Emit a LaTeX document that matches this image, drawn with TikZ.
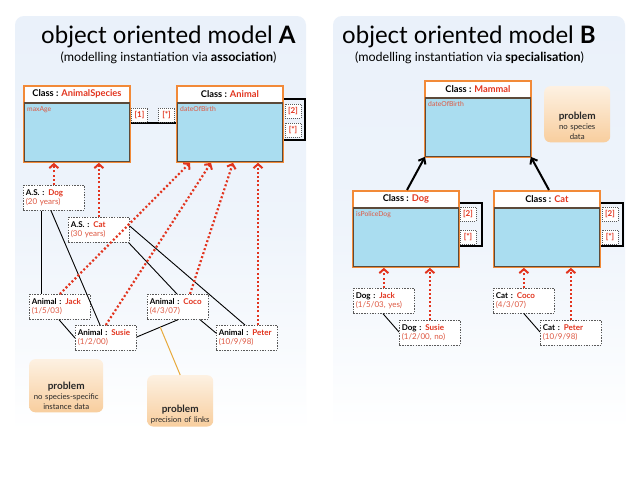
\documentclass[tikz,border=0pt]{standalone}
\usepackage{fontspec}
\setmainfont{Lato}
\usetikzlibrary{arrows.meta,calc}
\definecolor{myred}{RGB}{226,52,30}
\definecolor{attrred}{RGB}{222,88,66}
\definecolor{borderorange}{RGB}{242,138,56}
\definecolor{bodyblue}{RGB}{170,221,240}
\definecolor{bodyline}{RGB}{92,74,58}
\definecolor{panelbg}{RGB}{234,241,250}
\definecolor{dashgray}{RGB}{90,90,90}
\definecolor{probtop}{RGB}{253,241,226}
\definecolor{probbot}{RGB}{248,206,158}
\definecolor{linkorange}{RGB}{232,170,60}
\definecolor{textgray}{RGB}{40,40,40}
\newcommand\firstln[2]{{\bfseries #1 : \textcolor{myred}{#2}}}
\newcommand\probtitle{{\bfseries\fontsize{10}{11}\selectfont problem}}
\begin{document}
\begin{tikzpicture}[x=1pt,y=-1pt,
  classouter/.style={draw=borderorange, line width=1.8pt, fill=white, anchor=north west, minimum width=106pt, minimum height=76pt, inner sep=0pt},
  body/.style={fill=bodyblue, draw=bodyline, line width=1.3pt},
  header/.style={font=\bfseries\fontsize{9.3}{11}\selectfont, inner sep=1pt},
  attr/.style={font=\fontsize{6.8}{8}\selectfont, text=attrred, anchor=north west, inner sep=1pt},
  mult/.style={draw=dashgray, line width=0.8pt, dash pattern=on 1pt off 1pt, fill=white, font=\bfseries\fontsize{8}{9}\selectfont, text=myred, inner sep=0pt, minimum width=16pt, minimum height=14pt},
  assoc/.style={line width=1.4pt, black},
  inst/.style={draw=dashgray, line width=0.7pt, dash pattern=on 1.5pt off 1.2pt, fill=white, anchor=north west, text width=56pt, align=left, inner xsep=2.5pt, inner ysep=2pt, minimum height=25pt, font=\fontsize{8}{9.5}\selectfont},
  link/.style={line width=0.9pt, black},
  instarrow/.style={draw=myred, line width=2.2pt, dash pattern=on 2pt off 2.2pt, -{Straight Barb[length=4pt,width=9pt,line width=2pt]}},
  gen/.style={line width=2pt, -{Straight Barb[length=5pt,width=8pt]}},
  prob/.style={rounded corners=6pt, top color=probtop, bottom color=probbot, anchor=north west, align=center, inner sep=3pt, text=textgray, font=\fontsize{7.8}{10}\selectfont},
  title/.style={font=\fontsize{24}{28}\selectfont, inner sep=0pt},
  subtitle/.style={font=\fontsize{12.5}{15}\selectfont, inner sep=0pt},
]
\useasboundingbox (0,0) rectangle (638,479);
\fill[white] (0,0) rectangle (638,479);
% panels
\shade[rounded corners=9pt, top color=panelbg, bottom color=white, middle color=panelbg!80!white] (15,16) rectangle (306,432);
\shade[rounded corners=9pt, top color=panelbg, bottom color=white, middle color=panelbg!80!white] (333,16) rectangle (625,430);

% titles
\node[title] (titleA) at (168.5,37) {object oriented model \textbf{A}};
\node[subtitle] (subA) at (168.5,58) {(modelling instantiation via \textbf{association})};
\node[title] (titleB) at (469,37) {object oriented model \textbf{B}};
\node[subtitle] (subB) at (469.5,58) {(modelling instantiation via \textbf{specialisation})};

% ===== Model A classes =====
\node[classouter] (asp) at (23,85) {};
\fill[body] ([xshift=1.5pt,yshift=-18pt]asp.north west) rectangle ([xshift=-1.5pt,yshift=1.5pt]asp.south east);
\node[header] (aspH) at ([yshift=-9pt]asp.north) {Class : \textcolor{myred}{AnimalSpecies}};
\node[attr] (aspA) at ([xshift=3pt,yshift=-20pt]asp.north west) {maxAge};

\node[classouter] (animal) at (176,85) {};
\fill[body] ([xshift=1.5pt,yshift=-18pt]animal.north west) rectangle ([xshift=-1.5pt,yshift=1.5pt]animal.south east);
\node[header] (animalH) at ([yshift=-9pt]animal.north) {Class : \textcolor{myred}{Animal}};
\node[attr] (animalA) at ([xshift=3pt,yshift=-20pt]animal.north west) {dateOfBirth};

% association AnimalSpecies - Animal
\draw[assoc] ([yshift=-38pt]asp.north east) -- ([yshift=-38pt]animal.north west);
\node[mult] (m1) at (139.5,115) {[1]};
\node[mult] (m2) at (166.5,115) {[*]};

% self association Animal
\draw[assoc] ([yshift=-14pt]animal.north east) -- ++(21,0) -- ++(0,41) -- ++(-21,0);
\node[mult] (m3) at (293,111) {[2]};
\node[mult] (m4) at (293,130) {[*]};

% ===== Model A instances =====
\node[inst] (asdog) at (23,185) {\firstln{A.S.}{Dog}\\\textcolor{attrred}{(20 years)}};
\node[inst] (ascat) at (68,217) {\firstln{A.S.}{Cat}\\\textcolor{attrred}{(30 years)}};
\node[inst] (jack) at (29,294) {\firstln{Animal}{Jack}\\\textcolor{attrred}{(1/5/03)}};
\node[inst] (susie) at (75,325) {\firstln{Animal}{Susie}\\\textcolor{attrred}{(1/2/00)}};
\node[inst] (coco) at (147,294) {\firstln{Animal}{Coco}\\\textcolor{attrred}{(4/3/07)}};
\node[inst] (peter) at (216,325) {\firstln{Animal}{Peter}\\\textcolor{attrred}{(10/9/98)}};

% links A
\draw[link] ([xshift=18pt]asdog.south west) -- ([xshift=12pt]jack.north west);
\draw[link] ([xshift=28pt]asdog.south west) -- ([xshift=25pt]susie.north west);
\draw[link] ([yshift=-9pt]ascat.north east) -- ([xshift=29pt]peter.north west);
\draw[link] ([xshift=-1pt]ascat.south east) -- ([xshift=30pt]coco.north west);
\draw[link] ([xshift=30pt]jack.south west) -- ([yshift=-13pt]susie.north west);
\draw[link] ([yshift=-12pt]susie.north east) -- coordinate[pos=0.57] (l6) ([xshift=31pt]coco.south west);
\draw[link] ([xshift=53pt]coco.south west) -- ([yshift=-8pt]peter.north west);

% instantiation arrows A
\draw[instarrow] (asdog.north) -- (asdog.north |- asp.south);
\draw[instarrow] (ascat.north) -- (ascat.north |- asp.south);
\draw[instarrow] (jack.north) -- ([xshift=14pt]animal.south west);
\draw[instarrow] (susie.north) -- ([xshift=35pt]animal.south west);
\draw[instarrow] ([xshift=43pt]coco.north west) -- ([xshift=57pt]animal.south west);
\draw[instarrow] ([xshift=42pt]peter.north west) -- ([xshift=82pt]animal.south west);

% problems A
\node[prob, text width=68pt] (prob1) at (29,359) {\rule{0pt}{27pt}\probtitle\\no species-specific\\instance data};
\node[prob, text width=60pt] (prob2) at (147,375) {\rule{0pt}{34pt}\probtitle\\precision of links};
\draw[linkorange, line width=1pt] (l6) -- (prob2.north);

% ===== Model B classes =====
\node[classouter] (mammal) at (424,80) {};
\fill[body] ([xshift=1.5pt,yshift=-18pt]mammal.north west) rectangle ([xshift=-1.5pt,yshift=1.5pt]mammal.south east);
\node[header] (mammalH) at ([yshift=-9pt]mammal.north) {Class : \textcolor{myred}{Mammal}};
\node[attr] (mammalA) at ([xshift=3pt,yshift=-20pt]mammal.north west) {dateOfBirth};

\node[classouter] (dog) at (352,190) {};
\fill[body] ([xshift=1.5pt,yshift=-18pt]dog.north west) rectangle ([xshift=-1.5pt,yshift=1.5pt]dog.south east);
\node[header] (dogH) at ([yshift=-9pt]dog.north) {Class : \textcolor{myred}{Dog}};
\node[attr] (dogA) at ([xshift=3pt,yshift=-20pt]dog.north west) {isPoliceDog};

\node[classouter] (cat) at (493,190) {};
\fill[body] ([xshift=1.5pt,yshift=-18pt]cat.north west) rectangle ([xshift=-1.5pt,yshift=1.5pt]cat.south east);
\node[header] (catH) at ([yshift=-9pt]cat.north) {Class : \textcolor{myred}{Cat}};

% self associations B
\draw[assoc] ([yshift=-13pt]dog.north east) -- ++(22,0) -- ++(0,43) -- ++(-22,0);
\node[mult] (m5) at (468,214) {[2]};
\node[mult] (m6) at (468,237) {[*]};
\draw[assoc] ([yshift=-13pt]cat.north east) -- ++(22,0) -- ++(0,43) -- ++(-22,0);
\node[mult] (m7) at (610,214) {[2]};
\node[mult] (m8) at (610,237) {[*]};

% generalisation
\draw[gen] ([xshift=55pt]dog.north west) -- ([xshift=1pt,yshift=1pt]mammal.south west);
\draw[gen] ([xshift=56pt]cat.north west) -- ([xshift=-1pt,yshift=1pt]mammal.south east);

% problem B
\node[prob, text width=60pt] (prob3) at (544,86) {\rule{0pt}{30pt}\probtitle\\no species\\data};

% instances B
\node[inst] (bjack) at (353,288) {\firstln{Dog}{Jack}\\\textcolor{attrred}{(1/5/03, yes)}};
\node[inst] (bsusie) at (399,320) {\firstln{Dog}{Susie}\\\textcolor{attrred}{(1/2/00, no)}};
\node[inst] (bcoco) at (493,288) {\firstln{Cat}{Coco}\\\textcolor{attrred}{(4/3/07)}};
\node[inst] (bpeter) at (540,320) {\firstln{Cat}{Peter}\\\textcolor{attrred}{(10/9/98)}};

\draw[link] ([xshift=30pt]bjack.south west) -- ([yshift=-12pt]bsusie.north west);
\draw[link] ([xshift=31pt]bcoco.south west) -- ([yshift=-12pt]bpeter.north west);

\draw[instarrow] (bjack.north) -- (bjack.north |- dog.south);
\draw[instarrow] (bsusie.north) -- (bsusie.north |- dog.south);
\draw[instarrow] (bcoco.north) -- (bcoco.north |- cat.south);
\draw[instarrow] (bpeter.north) -- (bpeter.north |- cat.south);
\end{tikzpicture}
\end{document}
